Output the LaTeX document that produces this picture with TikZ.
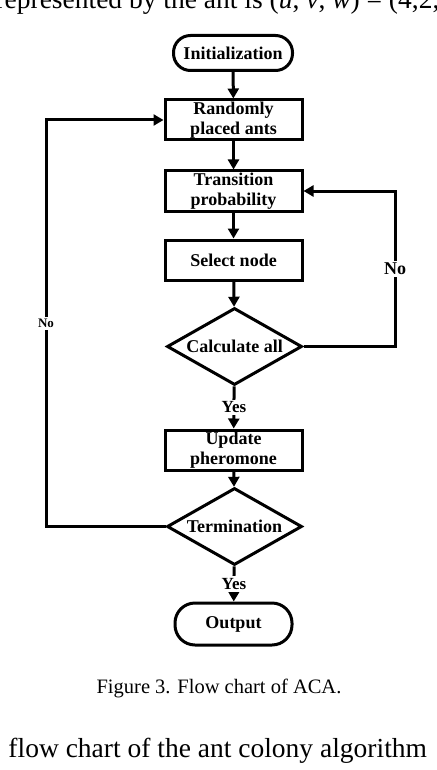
\documentclass[tikz,border=0pt]{standalone}
\usepackage{fontspec}
\setmainfont{Liberation Serif}
\usetikzlibrary{shapes.geometric,arrows.meta}
\begin{document}
\begin{tikzpicture}[x=1pt,y=-1pt,
  line width=3pt, line join=miter,
  boxtext/.style={font=\fontsize{18}{20}\selectfont\bfseries, align=center, inner sep=0pt},
  proc/.style={boxtext, draw, rectangle, minimum width=137pt, minimum height=40pt},
  term/.style={boxtext, draw, rectangle, rounded corners=17pt, minimum width=119pt, minimum height=35pt},
  dec/.style={boxtext, draw, diamond, aspect=1.75, minimum width=135pt, minimum height=77pt},
  arr/.style={-{Triangle[length=10pt,width=11pt]}},
  lab/.style={font=\fontsize{17}{17}\selectfont\bfseries, fill=white, inner sep=2pt},
  labs/.style={font=\fontsize{13}{13}\selectfont\bfseries, fill=white, inner sep=2pt},
  bodytext/.style={font=\fontsize{27.5}{30}\selectfont, inner sep=0pt}
]
\useasboundingbox (0,0) rectangle (436,770);
\clip (0,0) rectangle (436,770);

% running text
\node[bodytext, anchor=base west] (topline) at (-6,9) {represented by the ant is (\textit{u}, \textit{v}, \textit{w}) = (4,2,};
\node[font=\fontsize{20.5}{22}\selectfont, inner sep=0pt, anchor=base] (cap) at (219,693) {Figure 3. Flow chart of ACA.};
\node[bodytext, anchor=base west] (botline) at (7,757) {flow chart of the ant colony algorithm};

% flowchart nodes
\node[term] (init) at (233,53) {Initialization};
\node[proc] (rand) at (233.5,120) {Randomly\\placed ants};
\node[proc] (trans) at (233.5,191) {Transition\\probability};
\node[proc] (sel) at (233.5,260) {Select node};
\node[dec] (calc) at (234.5,346.5) {Calculate all};
\node[proc] (upd) at (233.5,450) {Update\\pheromone};
\node[dec] (termi) at (234.5,526.5) {Termination};
\node[term, minimum width=117pt, minimum height=42pt, rounded corners=20pt] (out) at (233.5,624) {Output};

\coordinate (rx) at (395,0);
\coordinate (lx) at (46,0);

% connectors
\draw[arr] (init) -- (rand);
\draw[arr] (rand) -- (trans);
\draw[arr] (trans) -- (sel);
\draw[arr] (sel) -- (calc);
\draw[arr] (calc) -- node[lab] {Yes} (upd);
\draw[arr] (upd) -- (termi);
\draw[arr] (termi) -- node[lab] {Yes} (out);
\draw[arr] (calc.east) -- (calc.east -| rx) -- node[lab, font=\fontsize{18}{18}\selectfont\bfseries] {No} (trans.east -| rx) -- (trans.east);
\draw[arr] (termi.west) -- (termi.west -| lx) -- node[labs] {No} (rand.west -| lx) -- (rand.west);
\end{tikzpicture}
\end{document}
